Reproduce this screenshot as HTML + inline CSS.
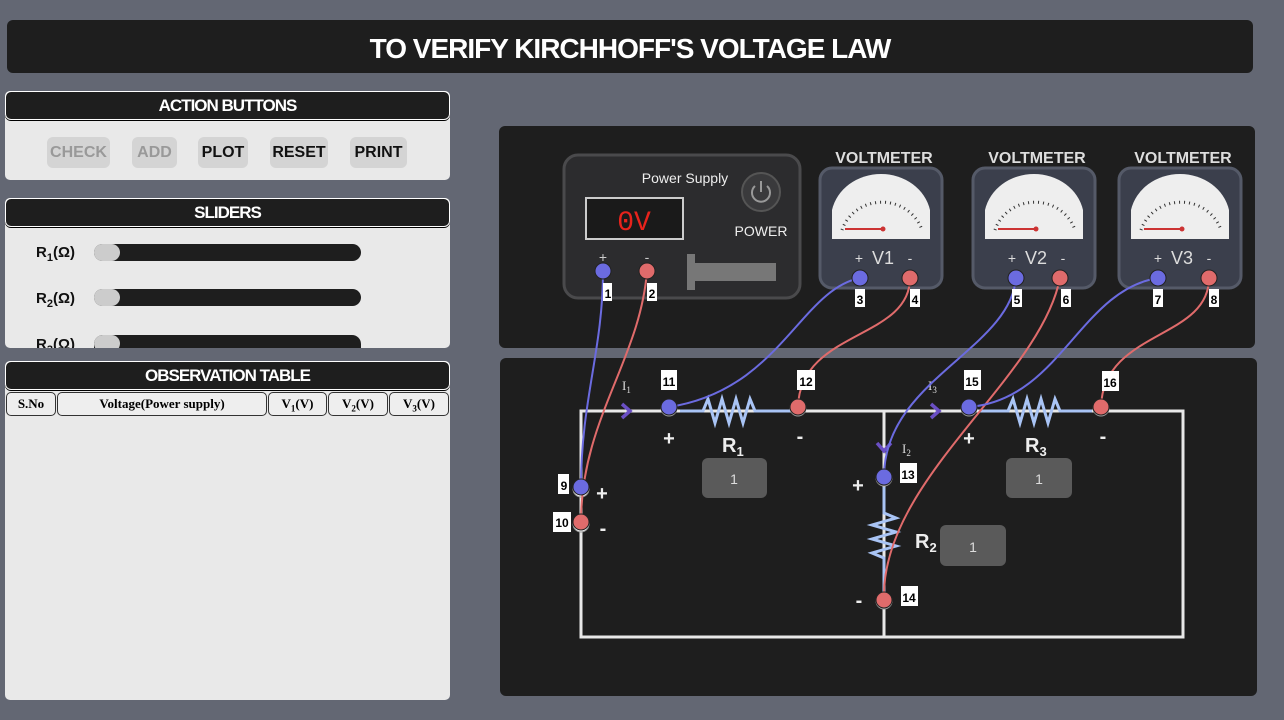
<!DOCTYPE html>
<html><head><meta charset="utf-8"><style>
body{margin:0;width:1284px;height:720px;background:#636773;font-family:"Liberation Sans",sans-serif;position:relative;overflow:hidden}
.abs{position:absolute}
.title{left:7px;top:20px;width:1246px;height:53px;background:#1e1e1e;border-radius:6px;color:#fff;font-weight:bold;font-size:28px;text-align:center;line-height:58px;letter-spacing:-1px}
.panel{background:#e9e9e9;border-radius:5px;left:5px;width:445px}
.hdr{left:5px;width:443px;height:27px;background:#1e1e1e;border:1px solid #fff;border-radius:6px;color:#fff;font-weight:bold;font-size:17px;text-align:center;line-height:28px;letter-spacing:-1px;box-shadow:0 1px 0 #000}
.btn{top:137px;height:31px;background:#d4d4d4;border-radius:6px;font-weight:bold;font-size:16px;line-height:32px;text-align:center;color:#111}
.dis{color:#999}
.sl{left:94px;width:267px;height:17px;background:#1e1e1e;border-radius:9px}
.knob{position:absolute;left:0;top:0;width:26px;height:17px;border-radius:9px;background:#ccc}
.lab{left:36px;font-weight:bold;font-size:15px;color:#111}
.th{top:392px;height:22px;border:1px solid #333;border-radius:5px;background:#eee;font-family:"Liberation Serif",serif;font-weight:bold;font-size:13px;text-align:center;line-height:22px}
</style></head><body>
<div class="abs title">TO VERIFY KIRCHHOFF'S VOLTAGE LAW</div>

<div class="abs panel" style="top:91px;height:89px"></div>
<div class="abs hdr" style="top:91px">ACTION BUTTONS</div>
<div class="abs btn dis" style="left:47px;width:63px">CHECK</div>
<div class="abs btn dis" style="left:132px;width:45px">ADD</div>
<div class="abs btn" style="left:198px;width:50px">PLOT</div>
<div class="abs btn" style="left:270px;width:58px">RESET</div>
<div class="abs btn" style="left:350px;width:57px">PRINT</div>

<div class="abs panel" style="top:198px;height:150px"></div>
<div class="abs hdr" style="top:198px">SLIDERS</div>
<div class="abs lab" style="top:244px">R<sub style="font-size:11px">1</sub>(Ω)</div>
<div class="abs sl" style="top:244px"><div class="knob"></div></div>
<div class="abs lab" style="top:290px">R<sub style="font-size:11px">2</sub>(Ω)</div>
<div class="abs sl" style="top:289px"><div class="knob"></div></div>
<div class="abs lab" style="top:336px;height:12px;overflow:hidden">R<sub style="font-size:11px">3</sub>(Ω)</div>
<div class="abs sl" style="top:335px;height:13px;overflow:hidden;border-radius:9px 9px 0 0"><div class="knob"></div></div>

<div class="abs panel" style="top:361px;height:339px"></div>
<div class="abs hdr" style="top:361px">OBSERVATION TABLE</div>
<div class="abs th" style="left:6px;width:48px">S.No</div>
<div class="abs th" style="left:57px;width:208px">Voltage(Power supply)</div>
<div class="abs th" style="left:268px;width:57px">V<sub style="font-size:9px">1</sub>(V)</div>
<div class="abs th" style="left:328px;width:58px">V<sub style="font-size:9px">2</sub>(V)</div>
<div class="abs th" style="left:389px;width:58px">V<sub style="font-size:9px">3</sub>(V)</div>

<svg class="abs" style="left:0;top:0" width="1284" height="720" font-family="Liberation Sans, sans-serif">
<rect x="499" y="126" width="756" height="222" rx="6" fill="#1e1e1e"/>
<rect x="500" y="358" width="757" height="338" rx="6" fill="#1e1e1e"/>
<rect x="564" y="155" width="236" height="143" rx="14" fill="#2c2c2e" stroke="#4a4a4c" stroke-width="3"/>
<text x="685" y="183" fill="#eee" font-size="14" text-anchor="middle">Power Supply</text>
<circle cx="761" cy="192" r="19" fill="#3a3a3c" stroke="#555" stroke-width="2"/>
<path d="M755 186 a9 9 0 1 0 12 0" fill="none" stroke="#999" stroke-width="2"/><line x1="761" y1="181" x2="761" y2="192" stroke="#999" stroke-width="2"/>
<text x="761" y="236" fill="#eee" font-size="14" text-anchor="middle">POWER</text>
<rect x="586" y="198" width="97" height="41" fill="#1a1a1a" stroke="#ccc" stroke-width="2"/>
<text x="634" y="230" fill="#e8231c" font-size="28" text-anchor="middle" font-family="Liberation Mono, monospace">0V</text>
<text x="603" y="262" fill="#ccc" font-size="14" text-anchor="middle">+</text>
<text x="647" y="262" fill="#ccc" font-size="14" text-anchor="middle">-</text>
<rect x="687" y="254" width="8" height="36" fill="#777"/><rect x="693" y="263" width="83" height="18" fill="#777"/>
<g id="vm">
<text x="884" y="163" fill="#ddd" font-size="16" font-weight="bold" text-anchor="middle">VOLTMETER</text>
<rect x="820" y="168" width="122" height="120" rx="12" fill="#3b3f4c" stroke="#555a68" stroke-width="3"/>
<path d="M832 239 L832 210 A50 45 0 0 1 930 210 L930 239 Z" fill="#eee"/>
<line x1="845" y1="229" x2="883" y2="229" stroke="#c33" stroke-width="2"/><circle cx="883" cy="229" r="2.5" fill="#c33"/>
<path d="M842 230 A42 40 0 0 1 922 230" fill="none" stroke="#333" stroke-width="3" stroke-dasharray="1 4"/>
<text x="859" y="263" fill="#ddd" font-size="14" text-anchor="middle">+</text>
<text x="910" y="263" fill="#ddd" font-size="14" text-anchor="middle">-</text>
</g>
<text x="883" y="264" fill="#ddd" font-size="18" text-anchor="middle">V1</text>
<use href="#vm" x="153"/><text x="1036" y="264" fill="#ddd" font-size="18" text-anchor="middle">V2</text>
<use href="#vm" x="299"/><text x="1182" y="264" fill="#ddd" font-size="18" text-anchor="middle">V3</text>
<g fill="none" stroke="#e8e8e8" stroke-width="3">
<path d="M581 411 H1183 V637 H581 Z"/><line x1="884" y1="411" x2="884" y2="637"/>
</g>
<g fill="none" stroke="#a9c4f5" stroke-width="3">
<path d="M680 411 H703 l5 -12 l7 24 l7 -24 l7 24 l7 -24 l7 24 l7 -24 l5 12 H790"/>
<path d="M980 411 H1008 l5 -12 l7 24 l7 -24 l7 24 l7 -24 l7 24 l7 -24 l5 12 H1092"/>
<path d="M884 487 V513 l12 5 l-24 7 l24 7 l-24 7 l24 7 l-24 7 l12 5 V592"/>
</g>
<g fill="none" stroke="#6a4fc4" stroke-width="3.5"><path d="M622 404 l8 7 l-8 7"/><path d="M931 404 l8 7 l-8 7"/><path d="M877 443 l7 8 l7 -8"/></g>
<g font-size="13" fill="#ddd" font-family="Liberation Serif,serif"><text x="622" y="390">I<tspan font-size="9" dy="3">1</tspan></text><text x="928" y="390">I<tspan font-size="9" dy="3">3</tspan></text><text x="902" y="453">I<tspan font-size="9" dy="3">2</tspan></text></g>
<g fill="#eee" font-size="20" font-weight="bold" text-anchor="middle"><text x="669" y="445">+</text><text x="800" y="443">-</text><text x="969" y="445">+</text><text x="1103" y="443">-</text><text x="858" y="492">+</text><text x="859" y="607">-</text><text x="602" y="500">+</text><text x="603" y="535">-</text></g>
<g fill="#eee" font-size="20" font-weight="bold"><text x="722" y="452">R<tspan font-size="13" dy="4">1</tspan></text><text x="1025" y="452">R<tspan font-size="13" dy="4">3</tspan></text><text x="915" y="548">R<tspan font-size="13" dy="4">2</tspan></text></g>
<g fill="#5a5a5a"><rect x="702" y="458" width="65" height="40" rx="6"/><rect x="1006" y="458" width="66" height="40" rx="6"/><rect x="940" y="525" width="66" height="41" rx="6"/></g>
<g fill="#ddd" font-size="14" text-anchor="middle"><text x="734" y="484">1</text><text x="1039" y="484">1</text><text x="973" y="552">1</text></g>
<g fill="#fff" stroke="#999" stroke-width="1">
<circle cx="669" cy="408" r="8"/><circle cx="798" cy="408" r="8"/><circle cx="969" cy="408" r="8"/><circle cx="1101" cy="408" r="8"/>
<circle cx="884" cy="478" r="8"/><circle cx="884" cy="601" r="8"/><circle cx="581" cy="489" r="8"/><circle cx="581" cy="524" r="8"/>
</g>
<g fill="none" stroke-width="2">
<path d="M603 271 C603 350 581 400 581 487" stroke="#6b6be0"/>
<path d="M647 271 C640 360 581 420 581 522" stroke="#e06b6b"/>
<path d="M860 278 C800 290 780 390 669 407" stroke="#6b6be0"/>
<path d="M910 278 C910 340 800 330 798 407" stroke="#e06b6b"/>
<path d="M1016 278 C1010 350 884 380 884 477" stroke="#6b6be0"/>
<path d="M1060 278 C1040 380 880 480 884 600" stroke="#e06b6b"/>
<path d="M1158 278 C1080 290 1060 400 969 407" stroke="#6b6be0"/>
<path d="M1209 278 C1209 340 1103 330 1101 407" stroke="#e06b6b"/>
</g>
<g stroke="#222" stroke-width="1">
<g fill="#6b6be0"><circle cx="603" cy="271" r="8"/><circle cx="860" cy="278" r="8"/><circle cx="1016" cy="278" r="8"/><circle cx="1158" cy="278" r="8"/><circle cx="669" cy="407" r="8"/><circle cx="969" cy="407" r="8"/><circle cx="884" cy="477" r="8"/><circle cx="581" cy="487" r="8"/></g>
<g fill="#e06b6b"><circle cx="647" cy="271" r="8"/><circle cx="910" cy="278" r="8"/><circle cx="1060" cy="278" r="8"/><circle cx="1209" cy="278" r="8"/><circle cx="798" cy="407" r="8"/><circle cx="1101" cy="407" r="8"/><circle cx="884" cy="600" r="8"/><circle cx="581" cy="522" r="8"/></g>
</g>
<g font-size="12" font-weight="bold" text-anchor="middle">
<g fill="#fff"><rect x="603" y="283" width="9" height="18"/><rect x="647" y="283" width="10" height="18"/><rect x="855" y="289" width="10" height="18"/><rect x="910" y="289" width="10" height="18"/><rect x="1012" y="289" width="10" height="18"/><rect x="1061" y="289" width="10" height="18"/><rect x="1153" y="289" width="10" height="18"/><rect x="1209" y="289" width="10" height="18"/>
<rect x="661" y="370" width="16" height="20"/><rect x="797" y="370" width="18" height="20"/><rect x="964" y="370" width="17" height="20"/><rect x="1102" y="371" width="17" height="20"/><rect x="900" y="463" width="17" height="20"/><rect x="901" y="586" width="17" height="20"/><rect x="558" y="474" width="11" height="20"/><rect x="553" y="512" width="18" height="20"/></g>
<g fill="#000"><text x="608" y="298">1</text><text x="652" y="298">2</text><text x="860" y="304">3</text><text x="915" y="304">4</text><text x="1017" y="304">5</text><text x="1066" y="304">6</text><text x="1158" y="304">7</text><text x="1214" y="304">8</text>
<text x="669" y="386">11</text><text x="806" y="386">12</text><text x="972" y="386">15</text><text x="1110" y="387">16</text><text x="908" y="479">13</text><text x="909" y="602">14</text><text x="564" y="490">9</text><text x="562" y="527">10</text></g>
</g>
</svg>
</body></html>
